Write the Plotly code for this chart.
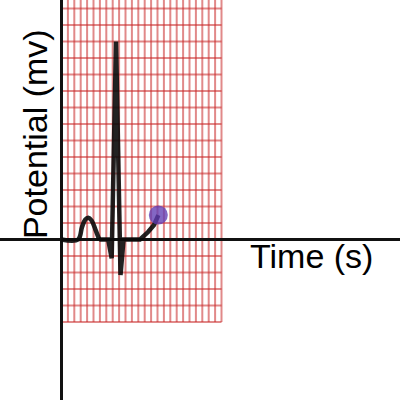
import plotly.graph_objects as go

# Grid positions (small-box units)
grid_cols = list(range(0, 26))      # vertical grid lines (time)
grid_rows = list(range(-5, 16))     # horizontal grid lines (potential)

# P wave (smooth)
p_t = [0.0, 2.6, 3.2, 3.7, 4.18, 4.7, 5.3, 5.9]
p_v = [0.0, 0.0, 0.75, 1.2, 1.32, 1.15, 0.6, 0.0]

# QRS complex and ST segment
ecg_t = [5.9, 7.3, 7.84, 8.52, 9.22, 9.69, 12.27, 13.52, 14.45, 15.13]
ecg_v = [0.0, 0.0, -1.14, 12.0, -2.15, 0.0, 0.0, 0.45, 0.88, 1.48]

# Current point
dot_t = [15.13]
dot_v = [1.48]

x_range = [-9.61, 52.89]
y_range = [-9.73, 14.515]

fig = go.Figure()

# vertical grid lines
vx, vy = [], []
for c in grid_cols:
    vx += [c, c, None]
    vy += [grid_rows[0], grid_rows[-1], None]
fig.add_trace(go.Scatter(x=vx, y=vy, mode="lines",
                         line=dict(color="rgba(200,40,40,0.55)", width=2),
                         hoverinfo="skip", showlegend=False))
# horizontal grid lines
hx, hy = [], []
for r in grid_rows:
    hx += [grid_cols[0], grid_cols[-1], None]
    hy += [r, r, None]
fig.add_trace(go.Scatter(x=hx, y=hy, mode="lines",
                         line=dict(color="rgba(200,40,40,0.55)", width=2),
                         hoverinfo="skip", showlegend=False))

# axes lines
fig.add_trace(go.Scatter(x=[x_range[0], x_range[1]], y=[0, 0], mode="lines",
                         line=dict(color="#111111", width=3),
                         hoverinfo="skip", showlegend=False))
fig.add_trace(go.Scatter(x=[0, 0], y=[y_range[0], y_range[1]], mode="lines",
                         line=dict(color="#111111", width=3),
                         hoverinfo="skip", showlegend=False))

# ECG trace
fig.add_trace(go.Scatter(x=p_t, y=p_v, mode="lines", line_shape="spline",
                         line=dict(color="rgba(10,10,10,0.9)", width=4.5),
                         hoverinfo="skip", showlegend=False))
fig.add_trace(go.Scatter(x=ecg_t, y=ecg_v, mode="lines",
                         line=dict(color="rgba(10,10,10,0.9)", width=4.5),
                         hoverinfo="skip", showlegend=False))
fig.add_trace(go.Scatter(x=dot_t, y=dot_v, mode="markers",
                         marker=dict(color="rgba(96,60,180,0.78)", size=19,
                                     line=dict(width=0)),
                         hoverinfo="skip", showlegend=False))

fig.add_annotation(x=-4.14, y=6.39, text="Potential (mv)", textangle=-90,
                   showarrow=False, xanchor="center", yanchor="middle",
                   font=dict(family="Liberation Sans, Arial", size=34, color="#000000"))
fig.add_annotation(x=29.1, y=-1.0, text="Time (s)", showarrow=False,
                   xanchor="left", yanchor="middle",
                   font=dict(family="Liberation Sans, Arial", size=34, color="#000000"))

fig.update_layout(
    width=400, height=400,
    margin=dict(l=0, r=0, t=0, b=0),
    paper_bgcolor="white", plot_bgcolor="white",
    xaxis=dict(range=x_range, visible=False, fixedrange=True),
    yaxis=dict(range=y_range, visible=False, fixedrange=True),
    showlegend=False,
)

fig.write_html("out.html", config={"displayModeBar": False},
               post_script="document.body.style.margin='0';document.body.style.padding='0';")
